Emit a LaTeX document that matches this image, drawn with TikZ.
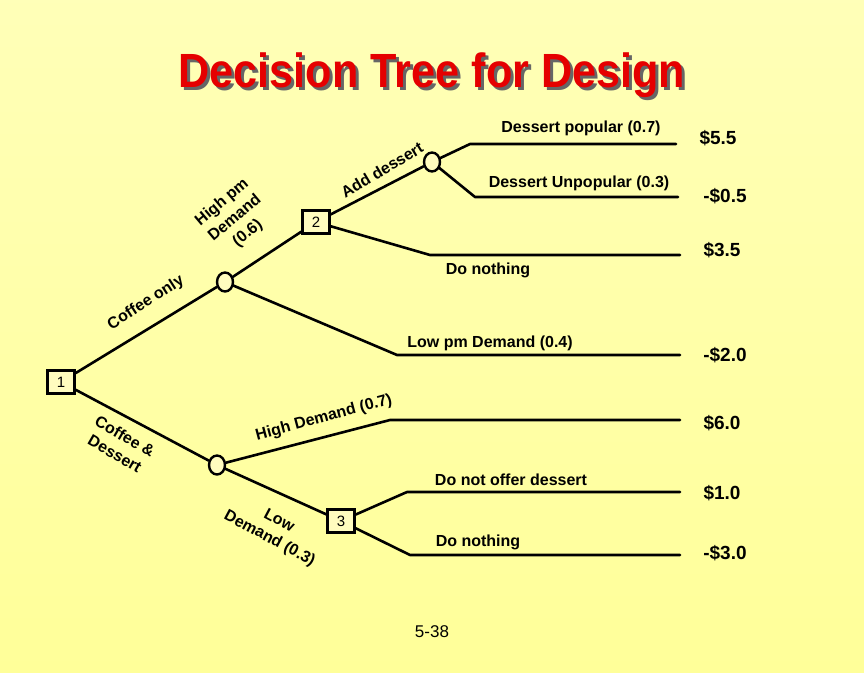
\documentclass[tikz,border=0pt]{standalone}
\usepackage{fontspec}
\setmainfont{Liberation Sans}
\usetikzlibrary{shapes.geometric}
\begin{document}
\begin{tikzpicture}[x=1pt,y=-1pt,
  ln/.style={line width=2.6pt,line cap=round,line join=round},
  dbox/.style={draw,line width=2.4pt,minimum width=27pt,minimum height=23pt,inner sep=0pt,font=\fontsize{15}{15}\selectfont,fill=yellow!25},
  chance/.style={draw,ellipse,line width=2.4pt,minimum width=16pt,minimum height=19pt,inner sep=0pt,fill=yellow!25},
  lab/.style={font=\bfseries\fontsize{16}{20}\selectfont,inner sep=0pt,align=center},
  val/.style={font=\bfseries\fontsize{19}{19}\selectfont,inner sep=0pt}]
\shade[top color=yellow!28,bottom color=yellow!40] (0,0) rectangle (864,672);
\useasboundingbox (0,0) rectangle (864,672);
\node[font=\bfseries\fontsize{48}{48}\selectfont,text=black!60,xscale=0.9] at (435,78) {Decision Tree for Design};
\node[font=\bfseries\fontsize{48}{48}\selectfont,text=red!90!black,xscale=0.9] (title) at (432,75) {Decision Tree for Design};
\node[font=\fontsize{17}{17}\selectfont] (pg) at (432,632) {5-38};
\node[dbox] (n1) at (61,382) {1};
\node[chance] (c1) at (225,282) {};
\node[dbox] (n2) at (316,222) {2};
\node[chance] (c2) at (432,162) {};
\node[chance] (c3) at (217,465) {};
\node[dbox] (n3) at (341,521) {3};
\coordinate (a1) at (470,144); \coordinate (a2) at (676,144);
\coordinate (b1) at (475,197); \coordinate (b2) at (678,197);
\coordinate (d1) at (430,255); \coordinate (d2) at (680,255);
\coordinate (e1) at (397,355); \coordinate (e2) at (680,355);
\coordinate (f1) at (390,420); \coordinate (f2) at (680,420);
\coordinate (g1) at (407,492); \coordinate (g2) at (680,492);
\coordinate (h1) at (410,555); \coordinate (h2) at (680,555);
\draw[ln] (n1) -- (c1);
\draw[ln] (n1) -- (c3);
\draw[ln] (c1) -- (n2);
\draw[ln] (n2) -- (c2);
\draw[ln] (c2) -- (a1) -- (a2);
\draw[ln] (c2) -- (b1) -- (b2);
\draw[ln] (n2) -- (d1) -- (d2);
\draw[ln] (c1) -- (e1) -- (e2);
\draw[ln] (c3) -- (f1) -- (f2);
\draw[ln] (c3) -- (n3);
\draw[ln] (n3) -- (g1) -- (g2);
\draw[ln] (n3) -- (h1) -- (h2);
% labels
\node[lab,rotate=33] (l1) at (146,303) {Coffee only};
\node[lab,rotate=40] (l2) at (235,218) {High pm\\Demand\\(0.6)};
\node[lab,rotate=31] (l3) at (382,170) {Add dessert};
\node[lab] (l4) at (581,128) {Dessert popular (0.7)};
\node[lab] (l5) at (579,183) {Dessert Unpopular (0.3)};
\node[lab] (l6) at (488,270) {Do nothing};
\node[lab] (l7) at (490,343) {Low pm Demand (0.4)};
\node[lab,rotate=-30] (l8) at (120,445) {Coffee \&\\Dessert};
\node[lab,rotate=15] (l9) at (324,418) {High Demand (0.7)};
\node[lab,rotate=-28] (l10) at (274,530) {Low\\Demand (0.3)};
\node[lab] (l11) at (511,480) {Do not offer dessert};
\node[lab] (l12) at (478,542) {Do nothing};
\node[val] (v1) at (718,138) {\$5.5};
\node[val] (v2) at (725,196) {-\$0.5};
\node[val] (v3) at (722,250) {\$3.5};
\node[val] (v4) at (725,355) {-\$2.0};
\node[val] (v5) at (722,423) {\$6.0};
\node[val] (v6) at (722,493) {\$1.0};
\node[val] (v7) at (725,553) {-\$3.0};
\end{tikzpicture}
\end{document}
